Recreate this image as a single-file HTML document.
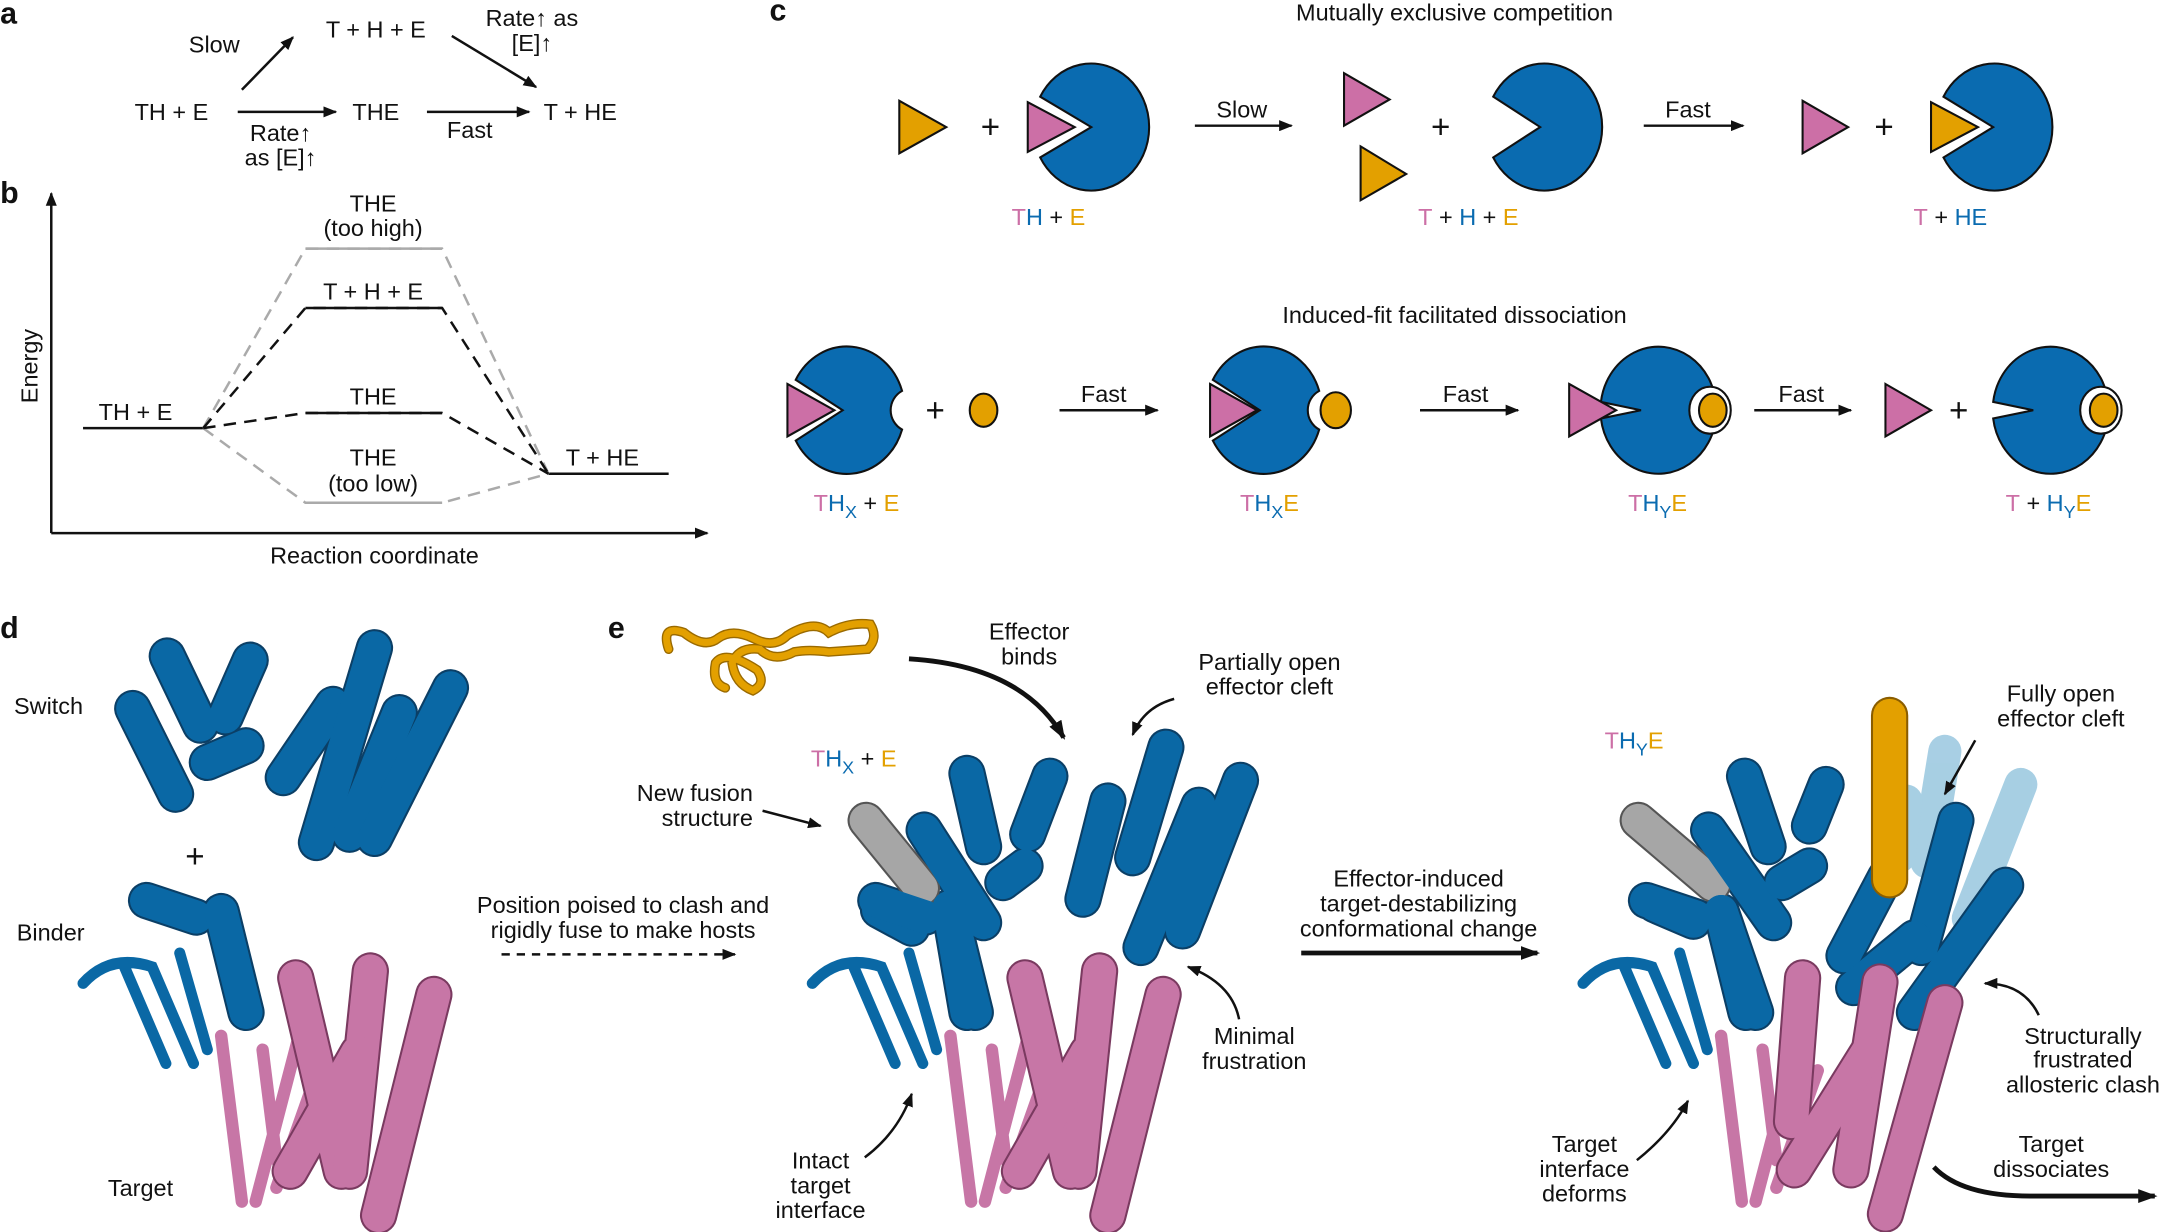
<!DOCTYPE html>
<html><head><meta charset="utf-8"><style>
html,body{margin:0;padding:0;background:#fff}
svg{display:block}
text{font-family:"Liberation Sans",Arial,sans-serif;font-size:17px;fill:#111}
.b{font-weight:bold;font-size:22px}
.m{text-anchor:middle}
.pl{font-size:24px}
.pk{fill:#cc6fa6}.bl{fill:#0a6bb0}.or{fill:#e3a000}
.ln{stroke:#111;stroke-width:1.8;fill:none}
</style></head><body>
<svg width="2166" height="1232" viewBox="0 0 1568 892" xmlns="http://www.w3.org/2000/svg">
<defs>
<marker id="ah" markerWidth="10" markerHeight="8" refX="9" refY="4" orient="auto" markerUnits="userSpaceOnUse"><path d="M0,0 L10,4 L0,8 z" fill="#111"/></marker>
<marker id="ah2" markerWidth="14" markerHeight="10" refX="12" refY="5" orient="auto" markerUnits="userSpaceOnUse"><path d="M0,0 L14,5 L0,10 z" fill="#111"/></marker>
<g id="dsw">
<line x1="121" y1="475" x2="145" y2="525"/><line x1="181" y1="478" x2="163" y2="519"/>
<line x1="96" y1="513" x2="127" y2="575"/><line x1="178" y1="540" x2="150" y2="552"/>
<line x1="205" y1="563" x2="241" y2="510"/><line x1="271" y1="469" x2="229" y2="610"/>
<line x1="289" y1="516" x2="253" y2="604"/><line x1="326" y1="498" x2="271" y2="607"/>
</g>
<g id="bind">
<line x1="106" y1="652" x2="142" y2="664"/><line x1="160" y1="660" x2="178" y2="733"/>
</g>
<g id="tgt">
<line x1="214" y1="708" x2="247" y2="848"/><line x1="268" y1="703" x2="253" y2="848"/>
<line x1="314" y1="720" x2="274" y2="880"/><line x1="259" y1="762" x2="210" y2="848"/>
</g>
<g id="esw">
<line x1="669" y1="601" x2="712" y2="668"/><line x1="700" y1="560" x2="712" y2="613"/>
<line x1="760" y1="562" x2="744" y2="604"/><line x1="742" y1="627" x2="726" y2="639"/>
<line x1="636" y1="659" x2="660" y2="672"/><line x1="687" y1="657" x2="700" y2="733"/>
<line x1="802" y1="580" x2="784" y2="651"/><line x1="844" y1="541" x2="820" y2="621"/>
<line x1="868" y1="583" x2="826" y2="686"/><line x1="898" y1="565" x2="856" y2="674"/>
</g>
<g id="ysw">
<line x1="1237" y1="601" x2="1284" y2="668"/><line x1="1263" y1="562" x2="1280" y2="613"/>
<line x1="1322" y1="568" x2="1310" y2="598"/><line x1="1310" y1="627" x2="1290" y2="639"/>
<line x1="1198" y1="655" x2="1226" y2="667"/><line x1="1246" y1="660" x2="1271" y2="733"/>
<line x1="1416" y1="594" x2="1391" y2="686"/><line x1="1365" y1="635" x2="1335" y2="692"/>
<line x1="1452" y1="641" x2="1386" y2="733"/><line x1="1386" y1="679" x2="1342" y2="715"/>
</g>
<g id="ytg">
<line x1="1305" y1="708" x2="1297" y2="812"/><line x1="1361" y1="711" x2="1340" y2="847"/>
<line x1="1408" y1="726" x2="1365" y2="879"/><line x1="1352" y1="762" x2="1299" y2="847"/>
</g>
</defs>

<text class="b" x="0" y="17">a</text>
<text class="m" x="124" y="87">TH + E</text>
<text class="m" x="272" y="87">THE</text>
<text class="m" x="420" y="87">T + HE</text>
<text class="m" x="272" y="27">T + H + E</text>
<text class="m" x="155" y="38">Slow</text>
<text class="m" x="385" y="19">Rate↑ as</text>
<text class="m" x="385" y="37">[E]↑</text>
<text class="m" x="203" y="102">Rate↑</text>
<text class="m" x="203" y="120">as [E]↑</text>
<text class="m" x="340" y="100">Fast</text>
<line class="ln" x1="172" y1="81" x2="243" y2="81" marker-end="url(#ah)"/>
<line class="ln" x1="309" y1="81" x2="383" y2="81" marker-end="url(#ah)"/>
<line class="ln" x1="175" y1="65" x2="212" y2="27" marker-end="url(#ah)"/>
<line class="ln" x1="327" y1="26" x2="388" y2="63" marker-end="url(#ah)"/>

<text class="b" x="0" y="147">b</text>
<line class="ln" x1="37" y1="386" x2="37" y2="140" marker-end="url(#ah)"/>
<line class="ln" x1="37" y1="386" x2="512" y2="386" marker-end="url(#ah)"/>
<text class="m" transform="translate(27,265) rotate(-90)">Energy</text>
<text class="m" x="271" y="408">Reaction coordinate</text>
<g stroke-width="1.8" fill="none">
<line x1="60" y1="310" x2="147" y2="310" stroke="#111"/>
<line x1="397" y1="343" x2="484" y2="343" stroke="#111"/>
<polyline points="147,310 221,180 320,180 397,343" stroke="#aaa" stroke-dasharray="9,6"/>
<line x1="221" y1="180" x2="320" y2="180" stroke="#aaa"/>
<polyline points="147,310 221,364 320,364 397,343" stroke="#aaa" stroke-dasharray="9,6"/>
<line x1="221" y1="364" x2="320" y2="364" stroke="#aaa"/>
<polyline points="147,310 221,223 320,223 397,343" stroke="#111" stroke-dasharray="9,6"/>
<line x1="221" y1="223" x2="320" y2="223" stroke="#111"/>
<polyline points="147,310 221,299 320,299 397,343" stroke="#111" stroke-dasharray="9,6"/>
<line x1="221" y1="299" x2="320" y2="299" stroke="#111"/>
</g>
<text class="m" x="98" y="304">TH + E</text>
<text class="m" x="436" y="337">T + HE</text>
<text class="m" x="270" y="153">THE</text>
<text class="m" x="270" y="171">(too high)</text>
<text class="m" x="270" y="217">T + H + E</text>
<text class="m" x="270" y="293">THE</text>
<text class="m" x="270" y="337">THE</text>
<text class="m" x="270" y="356">(too low)</text>

<text class="b" x="557" y="15">c</text>
<text class="m" x="1053" y="15">Mutually exclusive competition</text>
<g stroke="#111" stroke-width="1.5">
<path d="M651,73 L685,92 L651,111 Z" fill="#e3a000"/>
<path d="M753,70 A42 46 0 1 1 753,114 L790,92 Z" fill="#0a6bb0"/>
<path d="M744,74 L778,92 L744,110 Z" fill="#cc6fa6" />
<path d="M973,53 L1006,72 L973,91 Z" fill="#cc6fa6"/>
<path d="M985,106 L1018,126 L985,145 Z" fill="#e3a000"/>
<path d="M1081,70 A42 46 0 1 1 1081,114 L1115,92 Z" fill="#0a6bb0"/>
<path d="M1305,73 L1338,92 L1305,111 Z" fill="#cc6fa6"/>
<path d="M1407,70 A42 46 0 1 1 1407,114 L1443,92 Z" fill="#0a6bb0"/>
<path d="M1398,74 L1432,92 L1398,110 Z" fill="#e3a000"/>
</g>
<g fill="none" stroke="#fff" stroke-width="3">
<path d="M751,72 L783,92 L751,112"/><path d="M1405,72 L1437,92 L1405,112"/>
</g>
<text class="m pl" x="717" y="100">+</text><text class="m pl" x="1043" y="100">+</text><text class="m pl" x="1364" y="100">+</text>
<text class="m" x="899" y="85">Slow</text><text class="m" x="1222" y="85">Fast</text>
<line class="ln" x1="865" y1="91" x2="935" y2="91" marker-end="url(#ah)"/>
<line class="ln" x1="1190" y1="91" x2="1262" y2="91" marker-end="url(#ah)"/>
<text class="m" x="759" y="163"><tspan class="pk">T</tspan><tspan class="bl">H</tspan> + <tspan class="or">E</tspan></text>
<text class="m" x="1063" y="163"><tspan class="pk">T</tspan> + <tspan class="bl">H</tspan> + <tspan class="or">E</tspan></text>
<text class="m" x="1412" y="163"><tspan class="pk">T</tspan> + <tspan class="bl">HE</tspan></text>

<text class="m" x="1053" y="234">Induced-fit facilitated dissociation</text>
<g stroke="#111" stroke-width="1.5">
<path d="M576,275 A42 46 0 0 1 653,283 A16 16 0 0 0 653,311 A42 46 0 0 1 576,319 L610,297 Z" fill="#0a6bb0"/>
<path d="M570,278 L604,297 L570,316 Z" fill="#cc6fa6"/>
<ellipse cx="712" cy="297" rx="10" ry="12" fill="#e3a000"/>
<path d="M878,275 A42 46 0 0 1 955,283 A16 16 0 0 0 955,311 A42 46 0 0 1 878,319 L912,297 Z" fill="#0a6bb0"/>
<path d="M876,278 L910,297 L876,316 Z" fill="#cc6fa6"/>
<ellipse cx="967" cy="297" rx="11" ry="13" fill="#e3a000"/>
<path d="M1159,291 A42 46 0 1 1 1159,303 L1188,297 Z" fill="#0a6bb0"/>
<ellipse cx="1238" cy="297" rx="15" ry="17" fill="#fff"/>
<ellipse cx="1240" cy="297" rx="10" ry="12" fill="#e3a000"/>
<path d="M1136,278 L1170,297 L1136,316 Z" fill="#cc6fa6"/>
<path d="M1365,278 L1398,297 L1365,316 Z" fill="#cc6fa6"/>
<path d="M1443,291 A42 46 0 1 1 1443,303 L1472,297 Z" fill="#0a6bb0"/>
<ellipse cx="1521" cy="297" rx="15" ry="17" fill="#fff"/>
<ellipse cx="1523" cy="297" rx="10" ry="12" fill="#e3a000"/>
</g>
<text class="m pl" x="677" y="305">+</text><text class="m pl" x="1418" y="305">+</text>
<text class="m" x="799" y="291">Fast</text><text class="m" x="1061" y="291">Fast</text><text class="m" x="1304" y="291">Fast</text>
<line class="ln" x1="767" y1="297" x2="838" y2="297" marker-end="url(#ah)"/>
<line class="ln" x1="1028" y1="297" x2="1099" y2="297" marker-end="url(#ah)"/>
<line class="ln" x1="1270" y1="297" x2="1340" y2="297" marker-end="url(#ah)"/>
<text class="m" x="620" y="370"><tspan class="pk">T</tspan><tspan class="bl">H<tspan dy="5" font-size="13">X</tspan></tspan><tspan dy="-5"> + </tspan><tspan class="or">E</tspan></text>
<text class="m" x="919" y="370"><tspan class="pk">T</tspan><tspan class="bl">H<tspan dy="5" font-size="13">X</tspan></tspan><tspan class="or" dy="-5">E</tspan></text>
<text class="m" x="1200" y="370"><tspan class="pk">T</tspan><tspan class="bl">H<tspan dy="5" font-size="13">Y</tspan></tspan><tspan class="or" dy="-5">E</tspan></text>
<text class="m" x="1483" y="370"><tspan class="pk">T</tspan> + <tspan class="bl">H<tspan dy="5" font-size="13">Y</tspan></tspan><tspan class="or" dy="-5">E</tspan></text>

<g stroke-linecap="round" fill="none">
<g stroke="#0b3f66" stroke-width="27"><use href="#dsw"/><use href="#bind"/></g>
<g stroke="#0a68a5" stroke-width="24"><use href="#dsw"/><use href="#bind"/></g>
<path d="M60,712 Q80,690 110,700 L140,770 M90,700 L120,770 M130,690 L150,760" stroke="#0a68a5" stroke-width="8"/>
<path d="M160,750 L175,870 M190,760 L200,840 M215,755 L185,870 M230,775 L200,860" stroke="#c776a6" stroke-width="9"/>
<g stroke="#7a3a60" stroke-width="27"><use href="#tgt"/></g>
<g stroke="#c776a6" stroke-width="24"><use href="#tgt"/></g>
<g stroke="#0b3f66" stroke-width="27"><use href="#esw"/><use href="#bind" transform="translate(528,0)"/></g>
<line x1="627" y1="594" x2="667" y2="643" stroke="#555" stroke-width="27"/>
<line x1="627" y1="594" x2="667" y2="643" stroke="#a6a6a6" stroke-width="24"/>
<g stroke="#0a68a5" stroke-width="24"><use href="#esw"/><use href="#bind" transform="translate(528,0)"/></g>
<path d="M588,712 Q608,690 638,700 L668,770 M618,700 L648,770 M658,690 L678,760" stroke="#0a68a5" stroke-width="8"/>
<path d="M688,750 L703,870 M718,760 L728,840 M743,755 L713,870 M758,775 L728,860" stroke="#c776a6" stroke-width="9"/>
<g stroke="#7a3a60" stroke-width="27"><use href="#tgt" transform="translate(528,0)"/></g>
<g stroke="#c776a6" stroke-width="24"><use href="#tgt" transform="translate(528,0)"/></g>
<path d="M484,470 Q478,452 495,458 Q510,470 520,462 Q530,455 545,462 Q560,470 570,460 Q590,448 600,458 Q615,450 630,452 Q636,462 628,470 L600,472 Q585,470 575,472 Q560,480 550,470 Q535,468 530,480 Q532,495 545,500 Q555,495 548,485 Q525,470 518,480 Q515,495 525,498" stroke="#9a6a00" stroke-width="7"/>
<path d="M484,470 Q478,452 495,458 Q510,470 520,462 Q530,455 545,462 Q560,470 570,460 Q590,448 600,458 Q615,450 630,452 Q636,462 628,470 L600,472 Q585,470 575,472 Q560,480 550,470 Q535,468 530,480 Q532,495 545,500 Q555,495 548,485 Q525,470 518,480 Q515,495 525,498" stroke="#e3a000" stroke-width="5"/>
<g stroke="#9ecae1" stroke-width="24" opacity="0.9">
<line x1="1408" y1="544" x2="1395" y2="624"/><line x1="1463" y1="568" x2="1425" y2="665"/><line x1="1380" y1="580" x2="1375" y2="620"/>
</g>
<g stroke="#0b3f66" stroke-width="27"><use href="#ysw"/><use href="#bind" transform="translate(1086,0)"/></g>
<line x1="1186" y1="594" x2="1240" y2="640" stroke="#555" stroke-width="27"/>
<line x1="1186" y1="594" x2="1240" y2="640" stroke="#a6a6a6" stroke-width="24"/>
<g stroke="#0a68a5" stroke-width="24"><use href="#ysw"/><use href="#bind" transform="translate(1086,0)"/></g>
<line x1="1368" y1="518" x2="1368" y2="637" stroke="#8a5d00" stroke-width="27"/>
<line x1="1368" y1="518" x2="1368" y2="637" stroke="#e3a000" stroke-width="24"/>
<path d="M1146,712 Q1166,690 1196,700 L1226,770 M1176,700 L1206,770 M1216,690 L1236,760" stroke="#0a68a5" stroke-width="8"/>
<path d="M1246,750 L1261,870 M1276,760 L1286,840 M1301,755 L1271,870 M1316,775 L1286,860" stroke="#c776a6" stroke-width="9"/>
<g stroke="#7a3a60" stroke-width="27"><use href="#ytg"/></g>
<g stroke="#c776a6" stroke-width="24"><use href="#ytg"/></g>
</g>

<text class="b" x="0" y="462">d</text>
<text x="10" y="517">Switch</text>
<text class="m pl" x="141" y="628">+</text>
<text x="12" y="681">Binder</text>
<text x="78" y="866">Target</text>
<text class="b" x="440" y="462">e</text>
<text class="m" x="745" y="463">Effector</text><text class="m" x="745" y="481">binds</text>
<text class="m" x="919" y="485">Partially open</text><text class="m" x="919" y="503">effector cleft</text>
<text class="m" x="618" y="555"><tspan class="pk">T</tspan><tspan class="bl">H<tspan dy="5" font-size="13">X</tspan></tspan><tspan dy="-5"> + </tspan><tspan class="or">E</tspan></text>
<text x="545" y="580" text-anchor="end">New fusion</text><text x="545" y="598" text-anchor="end">structure</text>
<text class="m" x="451" y="661">Position poised to clash and</text><text class="m" x="451" y="679">rigidly fuse to make hosts</text>
<line x1="363" y1="691" x2="532" y2="691" stroke="#111" stroke-width="1.8" stroke-dasharray="6,5" marker-end="url(#ah)"/>
<text class="m" x="1027" y="642">Effector-induced</text><text class="m" x="1027" y="660">target-destabilizing</text><text class="m" x="1027" y="678">conformational change</text>
<line x1="942" y1="690" x2="1113" y2="690" stroke="#111" stroke-width="3.5" marker-end="url(#ah2)"/>
<text class="m" x="908" y="756">Minimal</text><text class="m" x="908" y="774">frustration</text>
<text class="m" x="594" y="846">Intact</text><text class="m" x="594" y="864">target</text><text class="m" x="594" y="882">interface</text>
<text class="m" x="1183" y="542"><tspan class="pk">T</tspan><tspan class="bl">H<tspan dy="5" font-size="13">Y</tspan></tspan><tspan class="or" dy="-5">E</tspan></text>
<text class="m" x="1492" y="508">Fully open</text><text class="m" x="1492" y="526">effector cleft</text>
<text class="m" x="1508" y="756">Structurally</text><text class="m" x="1508" y="773">frustrated</text><text class="m" x="1508" y="791">allosteric clash</text>
<text class="m" x="1147" y="834">Target</text><text class="m" x="1147" y="852">interface</text><text class="m" x="1147" y="870">deforms</text>
<text class="m" x="1485" y="834">Target</text><text class="m" x="1485" y="852">dissociates</text>
<g fill="none" stroke="#111" stroke-width="1.8">
<path d="M552,587 L594,598" marker-end="url(#ah)"/>
<path d="M850,506 Q828,512 820,532" marker-end="url(#ah)"/>
<path d="M897,738 Q892,712 860,700" marker-end="url(#ah)"/>
<path d="M626,838 Q650,820 660,792" marker-end="url(#ah)"/>
<path d="M1430,536 L1408,575" marker-end="url(#ah)"/>
<path d="M1476,735 Q1465,712 1437,712" marker-end="url(#ah)"/>
<path d="M1185,840 Q1210,820 1222,797" marker-end="url(#ah)"/>
</g>
<path d="M658,477 Q740,482 770,534" fill="none" stroke="#111" stroke-width="3.5" marker-end="url(#ah2)"/>
<path d="M1400,845 Q1420,866 1470,866 L1560,866" fill="none" stroke="#111" stroke-width="3.5" marker-end="url(#ah2)"/>
</svg>
</body></html>
